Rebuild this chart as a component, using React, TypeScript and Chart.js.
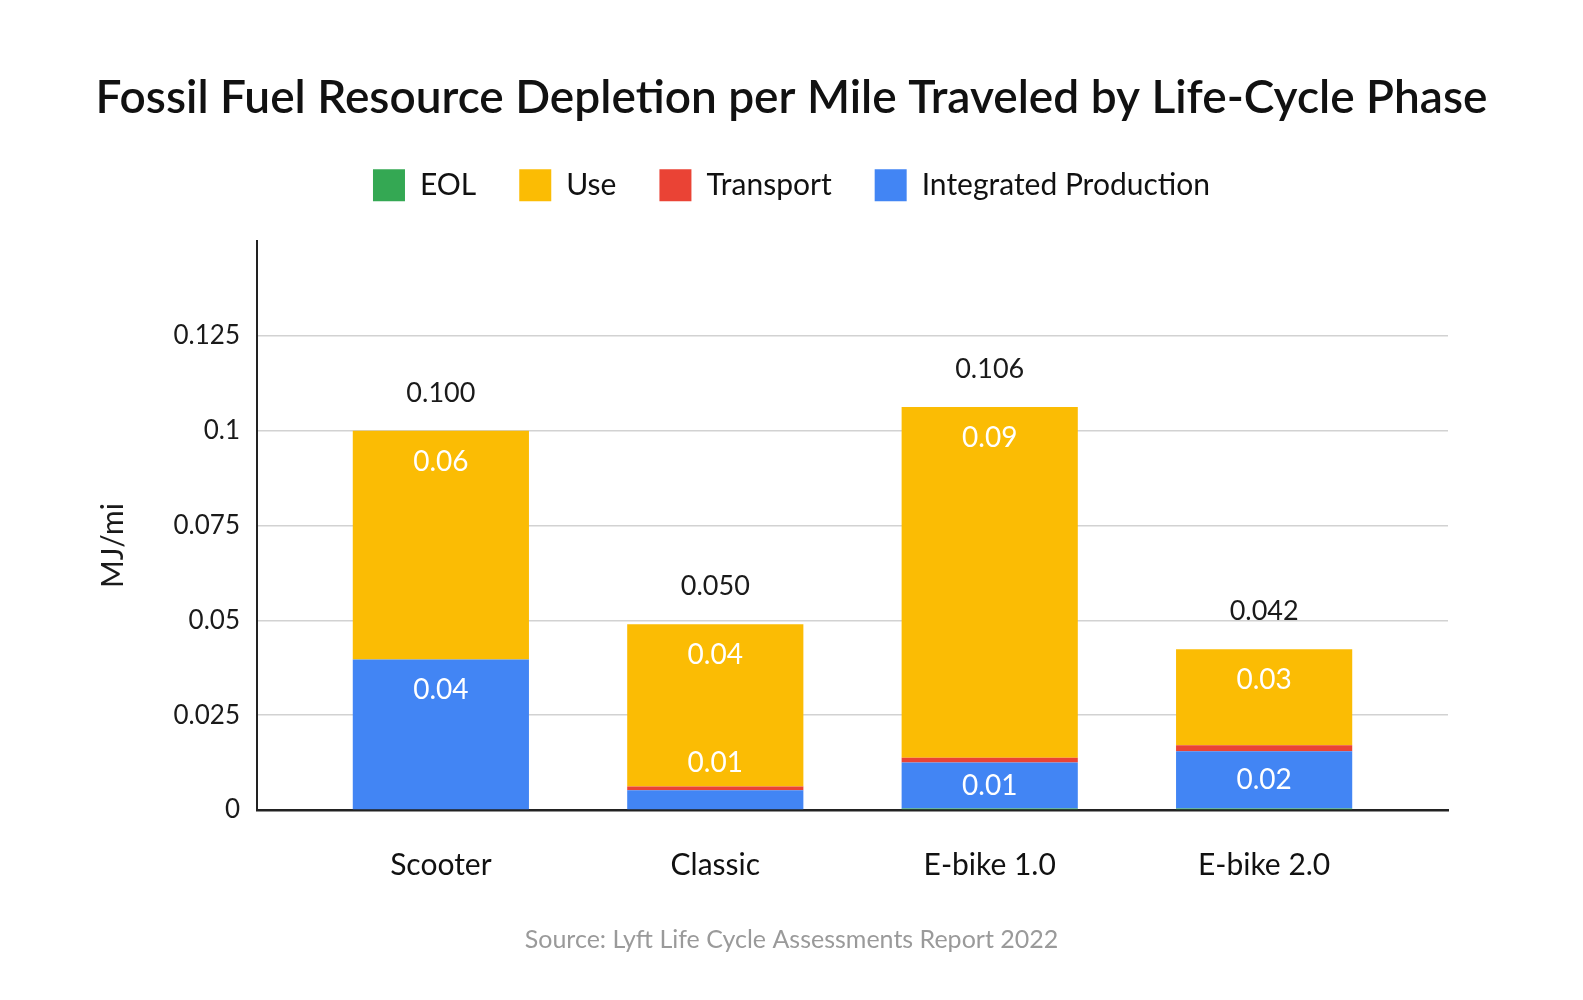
import React, { useEffect, useRef } from 'react';
import { Chart, registerables } from 'chart.js';

Chart.register(...registerables);

const FONT = 'Lato, "Noto Sans", sans-serif';

const categories = ['Scooter', 'Classic', 'E-bike 1.0', 'E-bike 2.0'];
const eolValues = [0, 0, 0.0004, 0.0004];
const productionValues = [0.0397, 0.0052, 0.0121, 0.0151];
const transportValues = [0, 0.001, 0.0013, 0.0016];
const useValues = [0.0603, 0.0428, 0.0925, 0.0253];
const totalLabels = ['0.100', '0.050', '0.106', '0.042'];
const yTickValues = [0, 0.025, 0.05, 0.075, 0.1, 0.125];
const legendOrder = ['EOL', 'Use', 'Transport', 'Integrated Production'];
const labeledSeries = ['Use', 'Integrated Production'];
const yAxisTitle = 'MJ/mi';

const COLORS: Record<string, string> = {
  EOL: '#34A853',
  Use: '#FBBC04',
  Transport: '#EA4335',
  'Integrated Production': '#4285F4',
};

const toPoints = (vals: number[]) => vals.map((y, i) => ({ x: i, y }));

const segmentLabelPlugin = {
  id: 'segmentLabels',
  beforeLayout(chart: any) {
    const lg = chart.legend;
    if (lg && !lg._patchedFit) {
      const orig = lg.fit;
      lg.fit = function () {
        orig.call(this);
        this.height += 30;
      };
      lg._patchedFit = true;
    }
  },
  afterDatasetsDraw(chart: any) {
    const ctx = chart.ctx;
    ctx.save();
    ctx.textAlign = 'center';
    ctx.textBaseline = 'middle';
    chart.data.datasets.forEach((ds: any, di: number) => {
      if (!labeledSeries.includes(ds.label)) return;
      const meta = chart.getDatasetMeta(di);
      meta.data.forEach((el: any, i: number) => {
        const v = ds.data[i].y;
        if (!v) return;
        const { x, y, base } = el.getProps(['x', 'y', 'base'], true);
        const top = Math.min(y, base);
        const h = Math.abs(base - y);
        const cy = h >= 24 ? top + Math.min(31, h / 2) : top - 27;
        ctx.font = `400 28px ${FONT}`;
        ctx.fillStyle = '#ffffff';
        ctx.fillText((Math.round(v * 100) / 100).toFixed(2), x, cy);
      });
    });
    const lastIdx = chart.data.datasets.length - 1;
    const meta = chart.getDatasetMeta(lastIdx);
    meta.data.forEach((el: any, i: number) => {
      const { x, y } = el.getProps(['x', 'y'], true);
      ctx.font = `400 27px ${FONT}`;
      ctx.fillStyle = '#1a1a1a';
      ctx.fillText(totalLabels[i], x, y - 38);
    });
    ctx.restore();
  },
  afterDraw(chart: any) {
    const ctx = chart.ctx;
    const area = chart.chartArea;
    ctx.save();
    ctx.translate(113, (area.top + area.bottom) / 2 + 20);
    ctx.rotate(-Math.PI / 2);
    ctx.textAlign = 'center';
    ctx.textBaseline = 'middle';
    ctx.font = `400 30px ${FONT}`;
    ctx.fillStyle = '#1a1a1a';
    ctx.fillText(yAxisTitle, 0, 0);
    ctx.restore();
  },
};

const makeDataset = (label: string, vals: number[]) => ({
  label,
  data: toPoints(vals),
  backgroundColor: COLORS[label],
  borderWidth: 0,
  xAxisID: 'x',
  yAxisID: 'y',
  categoryPercentage: 1,
  barPercentage: 0.642,
});

export default function App() {
  const ref = useRef<HTMLCanvasElement>(null);

  useEffect(() => {
    Chart.defaults.font.family = FONT;
    const chart = new Chart(ref.current as HTMLCanvasElement, {
      type: 'bar',
      data: {
        datasets: [
          makeDataset('EOL', eolValues),
          makeDataset('Integrated Production', productionValues),
          makeDataset('Transport', transportValues),
          makeDataset('Use', useValues),
        ] as any,
      },
      plugins: [segmentLabelPlugin as any],
      options: {
        animation: false,
        responsive: true,
        maintainAspectRatio: false,
        layout: { padding: 0 },
        plugins: {
          title: {
            display: true,
            text: 'Fossil Fuel Resource Depletion per Mile Traveled by Life-Cycle Phase',
            color: '#111111',
            font: { family: FONT, size: 46, weight: '600' as any, lineHeight: 1.2 },
            padding: { top: 71, bottom: 0 },
          },
          subtitle: {
            display: true,
            position: 'bottom',
            text: 'Source: Lyft Life Cycle Assessments Report 2022',
            color: '#9a9a9a',
            font: { family: FONT, size: 25, lineHeight: 1.2 },
            padding: { top: 46, bottom: 45 },
          },
          legend: {
            display: true,
            position: 'top',
            align: 'center',
            labels: {
              boxWidth: 32,
              boxHeight: 32,
              padding: 43,
              color: '#111111',
              font: { family: FONT, size: 30 },
              sort: (a: any, b: any) => legendOrder.indexOf(a.text) - legendOrder.indexOf(b.text),
            },
          },
          tooltip: { enabled: false },
        },
        scales: {
          x: {
            type: 'linear',
            min: -0.67,
            max: 3.67,
            stacked: true,
            offset: false,
            afterBuildTicks: (s: any) => {
              s.ticks = categories.map((_, i) => ({ value: i }));
            },
            afterFit: (s: any) => {
              s.height = 69;
            },
            grid: { display: false, drawTicks: false },
            border: { display: true, color: '#222222', width: 2.5 },
            ticks: {
              autoSkip: false,
              maxRotation: 0,
              padding: 37,
              color: '#111111',
              font: { family: FONT, size: 30 },
              callback: (v: any) => categories[Math.round(Number(v))] ?? '',
            },
          },
          y: {
            type: 'linear',
            min: 0,
            max: 0.15,
            stacked: true,
            afterBuildTicks: (s: any) => {
              s.ticks = yTickValues.map((v) => ({ value: v }));
            },
            afterFit: (s: any) => {
              s.width = 257;
            },
            grid: {
              drawTicks: false,
              lineWidth: 1.5,
              color: (c: any) => (c.tick && c.tick.value === 0 ? 'rgba(0,0,0,0)' : '#d2d2d2'),
            },
            border: { display: true, color: '#222222', width: 2 },
            ticks: {
              padding: 17,
              color: '#1a1a1a',
              font: { family: FONT, size: 26 },
              callback: (v: any) => String(v),
            },
          },
          yRight: {
            type: 'linear',
            position: 'right',
            display: true,
            grid: { display: false, drawTicks: false },
            border: { display: false },
            ticks: { display: false },
            afterFit: (s: any) => {
              s.width = 135;
            },
          },
        },
      } as any,
    });
    return () => chart.destroy();
  }, []);

  return (
    <div style={{ position: 'fixed', left: 0, top: 0, width: 1583, height: 1000, background: '#ffffff' }}>
      <canvas ref={ref} />
    </div>
  );
}
